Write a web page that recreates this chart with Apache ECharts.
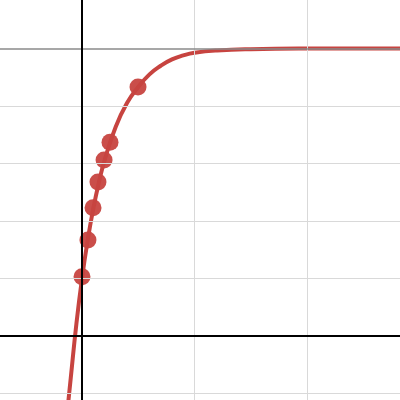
<!DOCTYPE html>
<html><head><meta charset="utf-8">
<script src="https://cdn.jsdelivr.net/npm/echarts@6/dist/echarts.min.js"></script>
<style>html,body{margin:0;padding:0;background:#fff}#c{width:400px;height:400px}</style>
</head><body><div id="c"></div>
<script>
const pointsX = [0, 0.053, 0.098, 0.142, 0.196, 0.249, 0.498];
const pointsY = [1.03, 1.67, 2.23, 2.68, 3.06, 3.37, 4.33];
const curveX = [-0.13, -0.1, -0.05, 0, 0.05, 0.1, 0.15, 0.2, 0.3, 0.4, 0.5, 0.6, 0.7, 0.8, 0.9, 1.0, 1.2, 1.5, 2.0, 2.9];
const curveY = [-1.3, -0.73, 0.21, 1, 1.66, 2.21, 2.67, 3.05, 3.64, 4.05, 4.33, 4.55, 4.70, 4.81, 4.88, 4.925, 4.965, 4.988, 4.998, 5];
const xGrid = [1, 2];
const yGrid = [-1, 1, 2, 3, 4];
const asymptote = 5;

const gridStyle = {color:'#d9d9d9', width:1, type:'solid'};
const markLines = [];
xGrid.forEach(v=>markLines.push({xAxis:v, lineStyle:gridStyle}));
yGrid.forEach(v=>markLines.push({yAxis:v, lineStyle:gridStyle}));
markLines.push({yAxis:asymptote, lineStyle:{color:'#8a8a8a', width:1.5, type:'solid'}});
markLines.push({xAxis:0, lineStyle:{color:'#000', width:2, type:'solid'}});
markLines.push({yAxis:0, lineStyle:{color:'#000', width:2, type:'solid'}});

const chart = echarts.init(document.getElementById('c'));
chart.setOption({
  animation:false,
  grid:{left:0,right:0,top:0,bottom:0},
  xAxis:{type:'value', min:-0.729, max:2.827, show:false},
  yAxis:{type:'value', min:-1.113, max:5.843, show:false},
  series:[
    {type:'line', silent:true, data:[], markLine:{symbol:'none', silent:true, label:{show:false}, data:markLines}},
    {type:'line', smooth:true, symbol:'none', data:curveX.map((x,i)=>[x,curveY[i]]), lineStyle:{color:'#c74440', width:4}},
    {type:'scatter', symbolSize:17, data:pointsX.map((x,i)=>[x,pointsY[i]]), itemStyle:{color:'#c74440', opacity:0.95}}
  ]
});
</script></body></html>
